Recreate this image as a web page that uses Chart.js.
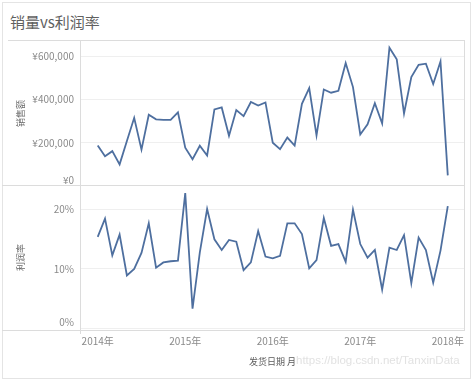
<!DOCTYPE html>
<html>
<head>
<meta charset="utf-8">
<script src="https://cdn.jsdelivr.net/npm/chart.js@4"></script>
<style>
  html, body { margin: 0; padding: 0; background: #fff; }
  body { width: 474px; height: 381px; position: relative; overflow: hidden; font-family: 'Noto Sans CJK SC', 'Noto Sans', sans-serif; }
  .ln { position: absolute; background: #dcdcdc; }
  #title { position: absolute; left: 10px; top: 12px; font-size: 15px; color: #606060; line-height: 20px; }
  #wm { position: absolute; left: 296px; top: 354px; font-size: 11.5px; color: #e2e2e2; font-family: 'Liberation Sans', Arial, sans-serif; }
  canvas { position: absolute; left: 0; }
</style>
</head>
<body>
<div class="ln" style="left:2px;top:2px;width:1px;height:376px;background:#e4e4e4"></div>
<div class="ln" style="left:2px;top:2px;width:468px;height:1px;background:#e4e4e4"></div>
<div class="ln" style="left:470px;top:2px;width:1px;height:376px;background:#e4e4e4"></div>
<div class="ln" style="left:2px;top:378px;width:469px;height:1px;background:#e4e4e4"></div>
<div id="title">销量vs利润率</div>
<canvas id="top" width="474" height="145" style="top:41px"></canvas>
<canvas id="bot" width="474" height="194" style="top:187px"></canvas>
<div class="ln" style="left:8px;top:40px;width:457px;height:1px"></div>
<div class="ln" style="left:2px;top:185px;width:463px;height:1px"></div>
<div class="ln" style="left:2px;top:330px;width:463px;height:1px"></div>
<div class="ln" style="left:80px;top:40px;width:1px;height:294px"></div>
<div class="ln" style="left:464px;top:40px;width:1px;height:291px"></div>
<div id="wm">https://blog.csdn.net/TanxinData</div>
<script>
// Month index 0 = 2014-01 ... 48 = 2018-01
const sales = [187000, 137000, 161000, 100000, 208000, 315000, 168000, 329000, 308000, 306000,
  306000, 340000, 177000, 124000, 186000, 141000, 354000, 363000, 232000, 351000,
  323000, 388000, 372000, 386000, 200000, 170000, 224000, 187000, 380000, 452000,
  234000, 446000, 431000, 440000, 568000, 457000, 238000, 285000, 383000, 289000,
  639000, 585000, 335000, 503000, 560000, 565000, 471000, 575000, 49000];
const profitRate = [15.4, 18.5, 12.3, 15.8, 8.9, 10.0, 12.7, 17.7, 10.2, 11.1,
  11.3, 11.4, 22.8, 3.3, 12.8, 20.1, 15.0, 13.2, 14.9, 14.6,
  9.8, 11.1, 16.4, 12.1, 11.8, 12.2, 17.7, 17.7, 15.9, 10.1,
  11.5, 18.6, 13.9, 14.2, 11.2, 20.0, 14.2, 11.9, 13.2, 6.5,
  13.6, 13.2, 15.7, 7.6, 15.3, 13.2, 7.7, 13.1, 20.6];
const yearTicks = [0, 12, 24, 36, 48];
const yearLabels = ['2014年', '2015年', '2016年', '2017年', '2018年'];
const salesTicks = [0, 200000, 400000, 600000];
const rateTicks = [0, 10, 20];

const lineColor = '#4e6f9f';
const font = { family: "'Noto Sans CJK SC', 'Noto Sans', sans-serif", size: 10 };
const xMin = -2.43, xMax = 50.36;
const toXY = arr => arr.map((v, i) => ({ x: i, y: v }));
const noPad = s => { s.paddingTop = 0; s.paddingBottom = 0; s.paddingLeft = 0; s.paddingRight = 0; };

function yScale(min, max, ticks, fmt, title) {
  return {
    min, max,
    afterFit: s => { s.width = 80; noPad(s); },
    afterBuildTicks: s => { s.ticks = ticks.map(v => ({ value: v })); },
    ticks: {
      color: '#8a8a8a', font, padding: 6,
      callback: v => (v === 0 ? [fmt(v), ''] : fmt(v))
    },
    grid: { color: '#efefef', drawTicks: false },
    border: { display: false },
    title: { display: true, text: title, color: '#6a6a6a', font: { family: font.family, size: 9 }, padding: { top: 15, bottom: 0 } }
  };
}

const common = {
  responsive: false,
  animation: false,
  plugins: { legend: { display: false }, tooltip: { enabled: false } },
  elements: { point: { radius: 0 }, line: { tension: 0, borderWidth: 1.8, borderColor: lineColor } }
};

new Chart(document.getElementById('top'), {
  type: 'line',
  data: { datasets: [{ data: toXY(sales), borderColor: lineColor, fill: false }] },
  options: Object.assign({}, common, {
    layout: { padding: { left: 0, right: 9, top: 0, bottom: 0 } },
    scales: {
      x: { type: 'linear', min: xMin, max: xMax, display: false },
      y: yScale(0, 670000, salesTicks, v => '¥' + v.toLocaleString('en-US'), '销售额')
    }
  })
});

new Chart(document.getElementById('bot'), {
  type: 'line',
  data: { datasets: [{ data: toXY(profitRate), borderColor: lineColor, fill: false }] },
  options: Object.assign({}, common, {
    layout: { padding: { left: 0, right: 9, top: 0, bottom: 14 } },
    scales: {
      x: {
        type: 'linear', min: xMin, max: xMax,
        afterFit: noPad,
        afterBuildTicks: s => { s.ticks = yearTicks.map(v => ({ value: v })); },
        ticks: { color: '#8a8a8a', font, padding: 7, maxRotation: 0, autoSkip: false,
          callback: v => yearLabels[yearTicks.indexOf(v)] },
        grid: { display: false, drawTicks: false },
        border: { display: false },
        title: { display: true, text: '发货日期 月', color: '#5a5a5a', font: { family: font.family, size: 9 }, padding: { top: 2, bottom: 0 } }
      },
      y: yScale(0, 23.83, rateTicks, v => v + '%', '利润率')
    }
  })
});
</script>
</body>
</html>
